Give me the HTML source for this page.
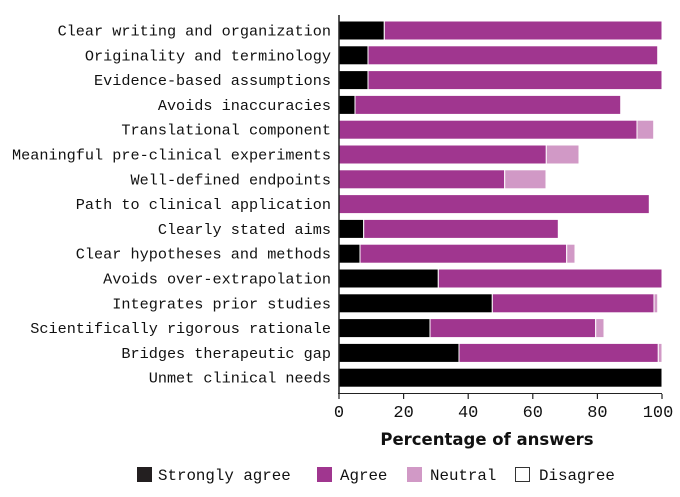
<!DOCTYPE html>
<html><head><meta charset="utf-8"><style>
html,body{margin:0;padding:0;background:#fff;}
svg{display:block;}
text{font-family:"Liberation Mono",monospace;fill:#111;}
</style></head><body>
<svg width="680" height="497" viewBox="0 0 680 497" xmlns="http://www.w3.org/2000/svg">
<g stroke="#fff" stroke-width="1">
<rect x="339" y="21" width="45.3" height="19" fill="#000"/><rect x="384.3" y="21" width="277.7" height="19" fill="#a0368f"/>
<rect x="339" y="45.8" width="29" height="19" fill="#000"/><rect x="368" y="45.8" width="289.7" height="19" fill="#a0368f"/>
<rect x="339" y="70.6" width="29" height="19" fill="#000"/><rect x="368" y="70.6" width="294" height="19" fill="#a0368f"/>
<rect x="339" y="95.4" width="16" height="19" fill="#000"/><rect x="355" y="95.4" width="265.7" height="19" fill="#a0368f"/>
<rect x="339" y="120.2" width="298" height="19" fill="#a0368f"/><rect x="637" y="120.2" width="16.7" height="19" fill="#d199c6"/>
<rect x="339" y="145" width="207.3" height="19" fill="#a0368f"/><rect x="546.3" y="145" width="32.7" height="19" fill="#d199c6"/>
<rect x="339" y="169.8" width="165.7" height="19" fill="#a0368f"/><rect x="504.7" y="169.8" width="41.3" height="19" fill="#d199c6"/>
<rect x="339" y="194.6" width="310.3" height="19" fill="#a0368f"/>
<rect x="339" y="219.4" width="24.7" height="19" fill="#000"/><rect x="363.7" y="219.4" width="194.6" height="19" fill="#a0368f"/>
<rect x="339" y="244.2" width="21" height="19" fill="#000"/><rect x="360" y="244.2" width="206.7" height="19" fill="#a0368f"/><rect x="566.7" y="244.2" width="8.3" height="19" fill="#d199c6"/>
<rect x="339" y="269" width="99.3" height="19" fill="#000"/><rect x="438.3" y="269" width="223.7" height="19" fill="#a0368f"/>
<rect x="339" y="293.8" width="153.3" height="19" fill="#000"/><rect x="492.3" y="293.8" width="161.7" height="19" fill="#a0368f"/><rect x="654" y="293.8" width="3.7" height="19" fill="#d199c6"/>
<rect x="339" y="318.6" width="91" height="19" fill="#000"/><rect x="430" y="318.6" width="165.7" height="19" fill="#a0368f"/><rect x="595.7" y="318.6" width="8.3" height="19" fill="#d199c6"/>
<rect x="339" y="343.4" width="120" height="19" fill="#000"/><rect x="459" y="343.4" width="199.3" height="19" fill="#a0368f"/><rect x="658.3" y="343.4" width="3.7" height="19" fill="#d199c6"/>
<rect x="339" y="368.2" width="323" height="19" fill="#000"/>
</g>
<line x1="339" y1="15" x2="339" y2="394" stroke="#222" stroke-width="1.5"/>
<line x1="338" y1="393.5" x2="662" y2="393.5" stroke="#222" stroke-width="1"/>
<g stroke="#222" stroke-width="1.2">
<line x1="339" y1="394" x2="339" y2="399"/><line x1="403.6" y1="394" x2="403.6" y2="399"/><line x1="468.2" y1="394" x2="468.2" y2="399"/><line x1="532.8" y1="394" x2="532.8" y2="399"/><line x1="597.4" y1="394" x2="597.4" y2="399"/><line x1="662" y1="394" x2="662" y2="399"/>
</g>
<g font-size="17" text-anchor="middle">
<text x="339" y="417">0</text><text x="403.6" y="417">20</text><text x="468.2" y="417">40</text><text x="532.8" y="417">60</text><text x="597.4" y="417">80</text><text x="658" y="417">100</text>
</g>
<text x="487" y="445" text-anchor="middle" font-size="16.5" font-weight="bold" style="font-family:'DejaVu Sans',sans-serif">Percentage of answers</text>
<g font-size="15.2" text-anchor="end">
<text x="331" y="35.5">Clear writing and organization</text>
<text x="331" y="60.3">Originality and terminology</text>
<text x="331" y="85.1">Evidence-based assumptions</text>
<text x="331" y="109.9">Avoids inaccuracies</text>
<text x="331" y="134.7">Translational component</text>
<text x="331" y="159.5">Meaningful pre-clinical experiments</text>
<text x="331" y="184.3">Well-defined endpoints</text>
<text x="331" y="209.1">Path to clinical application</text>
<text x="331" y="233.9">Clearly stated aims</text>
<text x="331" y="258.7">Clear hypotheses and methods</text>
<text x="331" y="283.5">Avoids over-extrapolation</text>
<text x="331" y="308.3">Integrates prior studies</text>
<text x="331" y="333.1">Scientifically rigorous rationale</text>
<text x="331" y="357.9">Bridges therapeutic gap</text>
<text x="331" y="382.7">Unmet clinical needs</text>
</g>
<g font-size="15.8">
<rect x="137" y="467" width="15" height="15" fill="#231f20"/><text x="158" y="480">Strongly agree</text>
<rect x="317" y="467" width="15" height="15" fill="#a0368f"/><text x="340" y="480">Agree</text>
<rect x="407" y="467" width="15" height="15" fill="#d199c6"/><text x="430" y="480">Neutral</text>
<rect x="515.5" y="467.5" width="14" height="14" fill="#fff" stroke="#333" stroke-width="1"/><text x="539" y="480">Disagree</text>
</g>
</svg>
</body></html>
